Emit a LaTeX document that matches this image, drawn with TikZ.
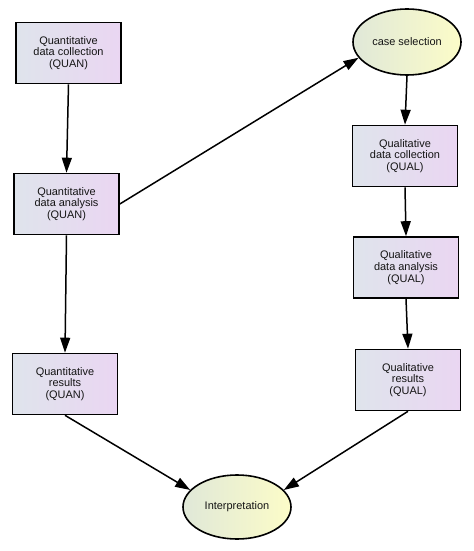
\documentclass[tikz,border=0pt]{standalone}
\usepackage{fontspec}
\setmainfont{Liberation Sans}
\usetikzlibrary{shapes.geometric,arrows.meta}
\definecolor{boxL}{HTML}{DFE4EC}
\definecolor{boxR}{HTML}{EAD6F2}
\definecolor{ovL}{HTML}{E0E8D8}
\definecolor{ovR}{HTML}{FCFCC8}
\definecolor{txt}{HTML}{151515}
\begin{document}
\begin{tikzpicture}[x=1bp,y=-1bp,
  box/.style={draw, line width=1.6bp, rectangle, minimum width=105bp, minimum height=61bp,
    left color=boxL, right color=boxR, align=center, text=txt,
    font=\fontsize{11}{11.8}\selectfont, inner sep=0pt},
  oval/.style={draw, line width=1.6bp, ellipse, minimum width=108bp, minimum height=66bp,
    left color=ovL, right color=ovR, align=center, text=txt,
    font=\fontsize{11}{11.8}\selectfont, inner sep=0pt},
  arr/.style={line width=1.5bp, -{Triangle[length=15bp,width=10bp]}}]
\useasboundingbox[fill=white] (0,0) rectangle (474,551);

\node[box] (qncol) at (68.5,53) {Quantitative\\data collection\\(QUAN)};
\node[box] (qnana) at (66.5,204) {Quantitative\\data analysis\\(QUAN)};
\node[box] (qnres) at (65,384) {Quantitative\\results\\(QUAN)};
\node[oval] (case) at (407,42) {case selection};
\node[box] (qlcol) at (405,156) {Qualitative\\data collection\\(QUAL)};
\node[box] (qlana) at (406,267.5) {Qualitative\\data analysis\\(QUAL)};
\node[box] (qlres) at (408,380) {Qualitative\\results\\(QUAL)};
\node[oval, minimum height=64bp] (interp) at (237,507) {Interpretation};

\draw[arr] (qncol.south) -- (qnana.north);
\draw[arr] (qnana.south) -- (qnres.north);
\draw[arr] (qnana.east) -- (case.198);
\draw[arr] (case.south) -- (qlcol.north);
\draw[arr] (qlcol.south) -- (qlana.north);
\draw[arr] (qlana.south) -- (qlres.north);
\draw[arr] (qnres.south) -- (interp.160);
\draw[arr] (qlres.south) -- (interp.20);
\end{tikzpicture}
\end{document}
